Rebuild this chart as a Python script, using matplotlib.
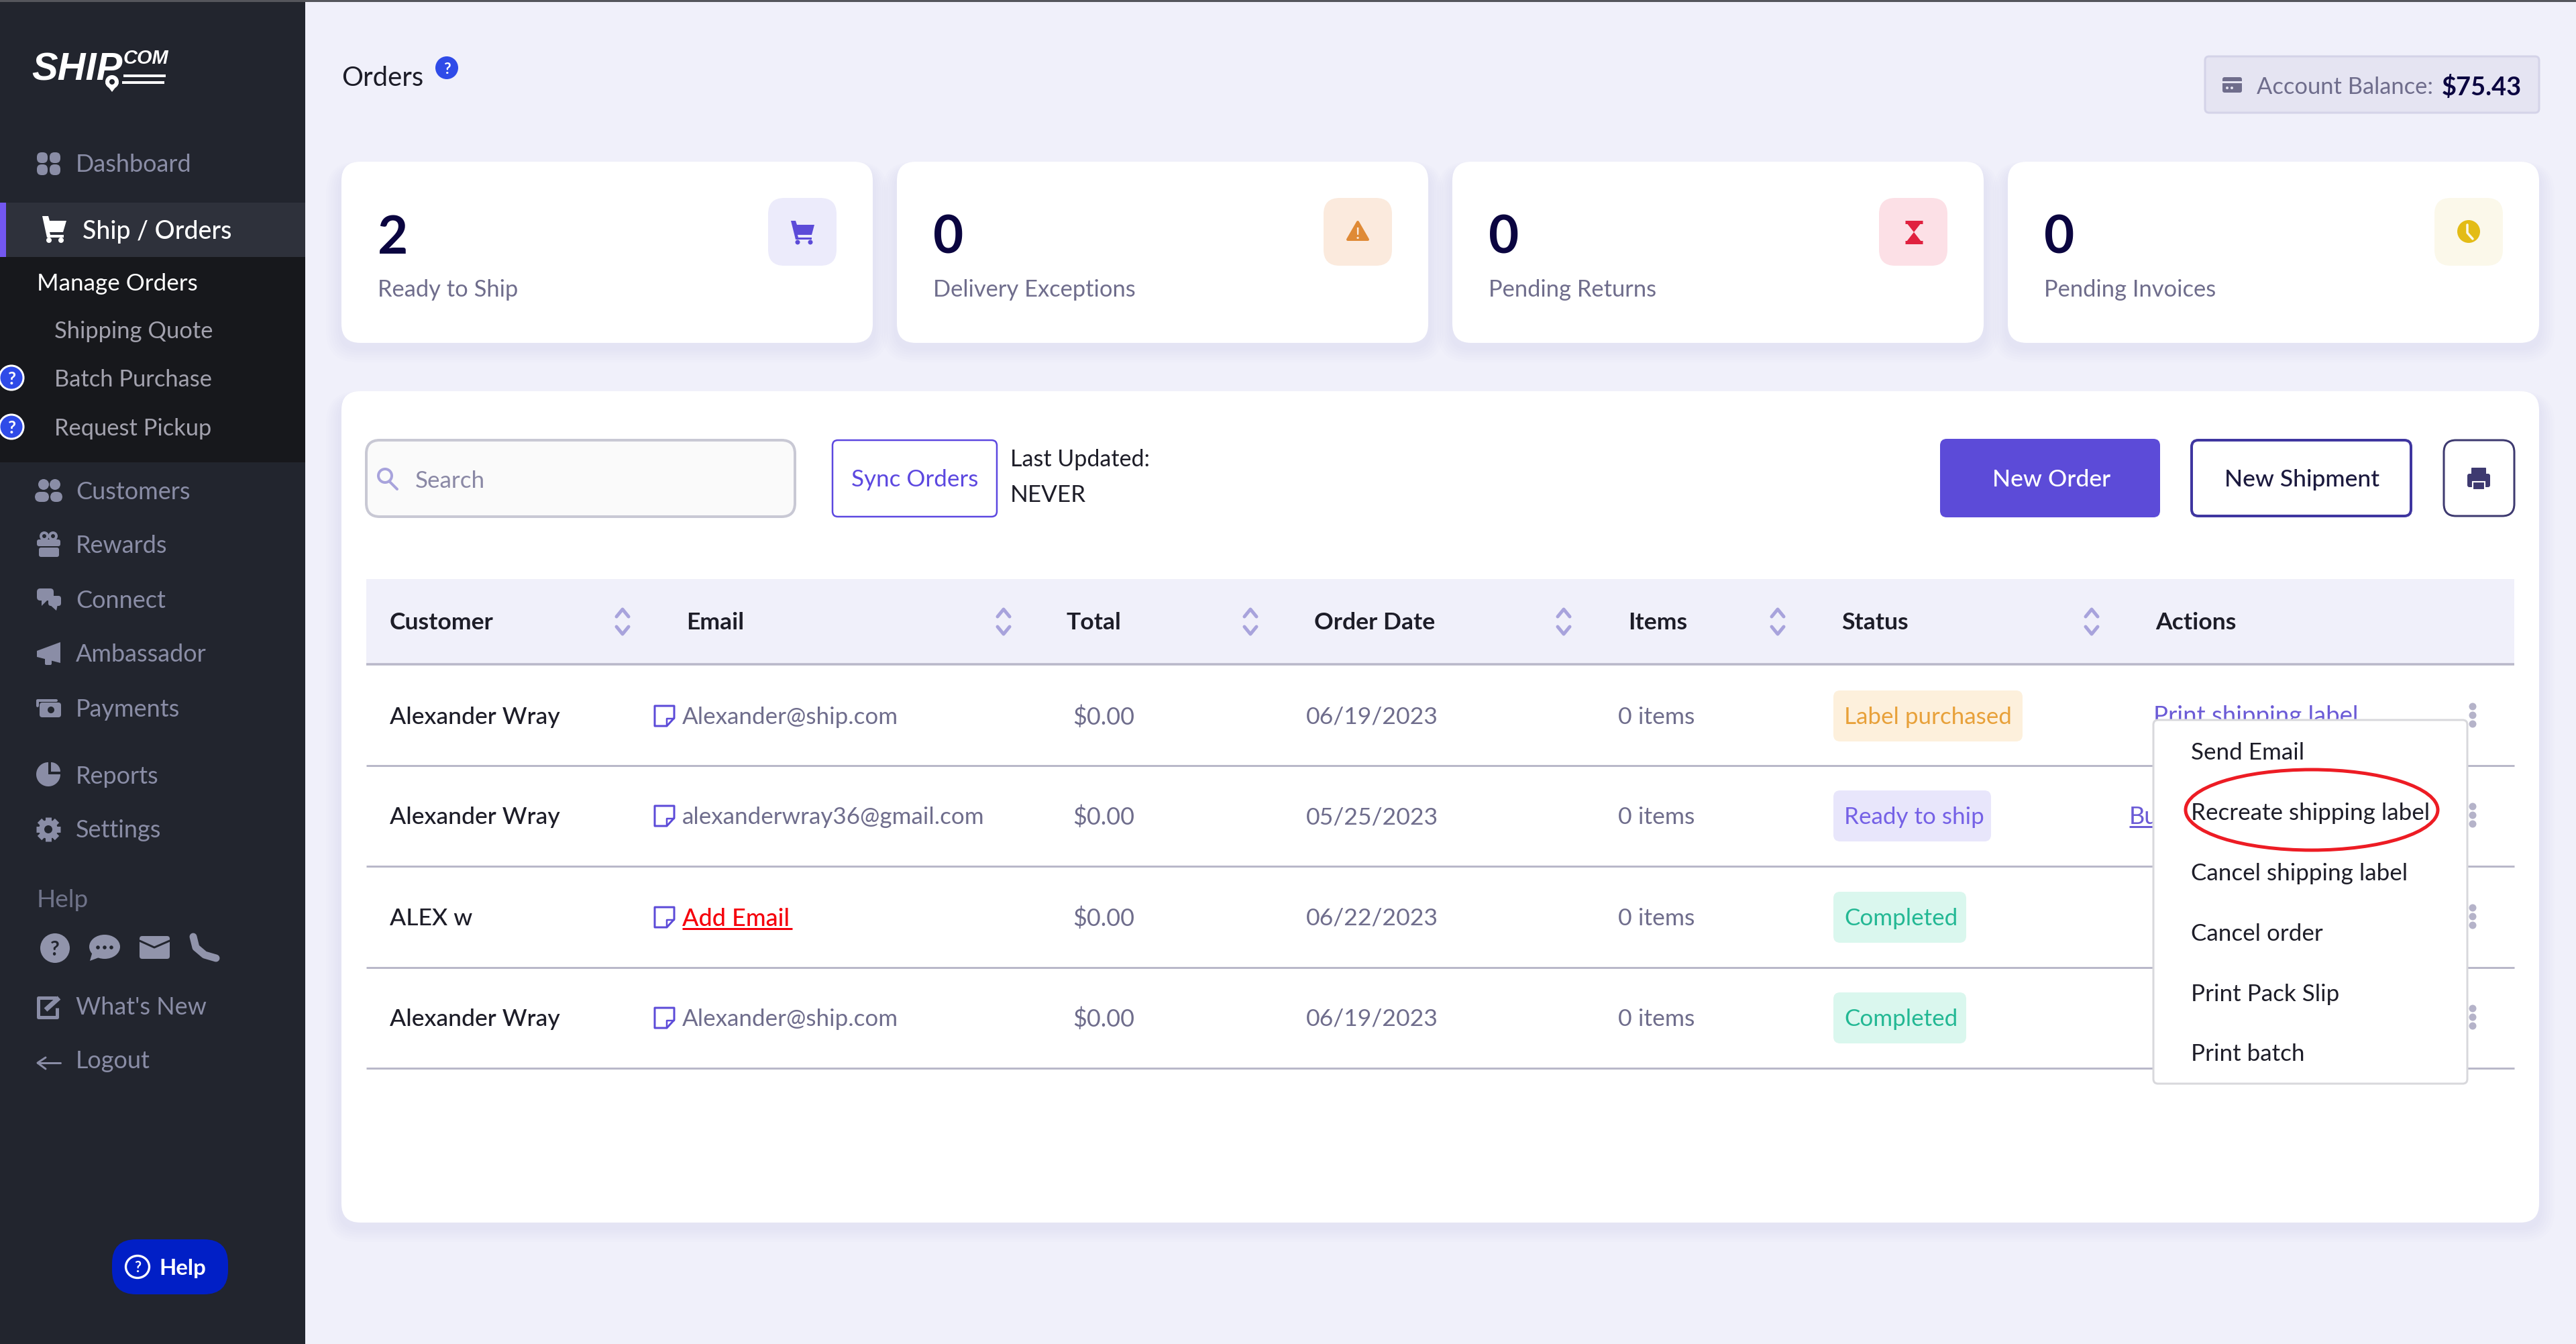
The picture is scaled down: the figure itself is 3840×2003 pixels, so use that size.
import matplotlib
matplotlib.use("Agg")
import matplotlib.pyplot as plt
from matplotlib.patches import FancyBboxPatch, Circle, Polygon, Wedge, Ellipse, Rectangle

plt.rcParams['font.family'] = ['Lato', 'DejaVu Sans']

# sidebar
NAV_MAIN = ["Dashboard", "Customers", "Rewards", "Connect", "Ambassador", "Payments", "Reports", "Settings", "What's New", "Logout"]
NAV_MAIN_Y = [242, 730, 810, 892, 973, 1054, 1154, 1235, 1499, 1579]
NAV_SUB = ["Shipping Quote", "Batch Purchase", "Request Pickup"]
NAV_SUB_Y = [491, 563, 636]

# stat cards
CARD_VALUES = ["2", "0", "0", "0"]
CARD_LABELS = ["Ready to Ship", "Delivery Exceptions", "Pending Returns", "Pending Invoices"]
CARD_X = [509, 1337, 2165, 2993]

# table
HEADERS = ["Customer", "Email", "Total", "Order Date", "Items", "Status", "Actions"]
HEADER_X = [581, 1023, 1589, 1959, 2427, 2745, 3213]
SORT_X = [928, 1496, 1864, 2331, 2650, 3118]
CUSTOMERS = ["Alexander Wray", "Alexander Wray", "ALEX w", "Alexander Wray"]
EMAILS = ["Alexander@ship.com", "alexanderwray36@gmail.com", "Add Email", "Alexander@ship.com"]
TOTALS = ["$0.00", "$0.00", "$0.00", "$0.00"]
DATES = ["06/19/2023", "05/25/2023", "06/22/2023", "06/19/2023"]
ITEMS = ["0 items", "0 items", "0 items", "0 items"]
STATUSES = ["Label purchased", "Ready to ship", "Completed", "Completed"]
ROW_Y = [1066, 1215, 1366, 1516]
LINE_Y = [1141, 1291, 1442, 1592]
MENU = ["Send Email", "Recreate shipping label", "Cancel shipping label", "Cancel order", "Print Pack Slip", "Print batch"]
MENU_Y = [1119, 1209, 1299, 1389, 1479, 1568]

BG = "#f0f0fa"
SIDE = "#22252e"
GREY = "#8a8da6"
PURPLE = "#5c4bd8"
INK = "#1d1d28"
MUTED = "#6f6d8c"
NAVY = "#0b0540"

fig = plt.figure(figsize=(38.4, 20.03), dpi=100, facecolor=BG)
ax = fig.add_axes([0, 0, 1, 1])
ax.set_xlim(0, 3840)
ax.set_ylim(2003, 0)
ax.axis("off")


def txt(x, y, s, px=36, color=INK, weight="normal", ha="left", z=6, **kw):
    return ax.text(x, y, s, fontsize=px * 0.72, color=color, weight=weight, ha=ha,
                   va="center_baseline", zorder=z, **kw)


def rrect(x0, y0, x1, y1, r, fc, ec="none", lw=0, z=2, alpha=None):
    p = FancyBboxPatch((x0, y0), x1 - x0, y1 - y0, boxstyle=f"round,pad=0,rounding_size={r}",
                       fc=fc, ec=ec, lw=lw * 0.72, zorder=z, alpha=alpha)
    ax.add_patch(p)
    return p


def circ(x, y, r, fc, ec="none", lw=0, z=3):
    ax.add_patch(Circle((x, y), r, fc=fc, ec=ec, lw=lw * 0.72, zorder=z))


def poly(pts, fc, z=3, ec="none", lw=0):
    ax.add_patch(Polygon(pts, closed=True, fc=fc, ec=ec, lw=lw * 0.72, zorder=z, joinstyle="round"))


def line(xs, ys, color, lw, z=3, cap="round"):
    ax.plot(xs, ys, color=color, lw=lw * 0.72, zorder=z, solid_capstyle=cap, solid_joinstyle="round")


def shadow(x0, y0, x1, y1, r):
    for g in range(8, 44, 6):
        rrect(x0 - g * 0.6, y0 - g * 0.3 + 12, x1 + g * 0.6, y1 + g * 0.6 + 6, r + g * 0.5, "#b9b8e0", z=1.5, alpha=0.035)


# ---- sidebar
ax.add_patch(Rectangle((0, 0), 455, 2003, fc=SIDE, zorder=1))
ax.add_patch(Rectangle((0, 302), 455, 81, fc="#2e313b", zorder=1.1))
ax.add_patch(Rectangle((0, 302), 9, 81, fc="#7357f0", zorder=1.2))
ax.add_patch(Rectangle((0, 383), 455, 306, fc="#17181c", zorder=1.1))
ax.add_patch(Rectangle((0, 0), 3840, 3, fc="#55565c", zorder=8))

# logo
txt(47, 98, "SHIP", 58, "white", "heavy", style="italic", family=["Liberation Sans"])
txt(184, 84, "COM", 29, "white", "bold", style="italic", family=["Liberation Sans"])
line([184, 247], [113, 113], "white", 4, cap="butt")
line([182, 245], [123, 123], "white", 4, cap="butt")
poly([(157, 124), (177, 124), (167, 137)], "white", z=7)
circ(167, 122, 10, "white", z=7)
circ(167, 122, 4, SIDE, z=8)

for s, y in zip(NAV_MAIN, NAV_MAIN_Y):
    txt(113, y, s, 36, GREY)
txt(123, 342, "Ship / Orders", 37.5, "white", "medium")
txt(55, 420, "Manage Orders", 35, "white")
for s, y in zip(NAV_SUB, NAV_SUB_Y):
    txt(81, y, s, 34.5, "#a3a2ae")
txt(55, 1338, "Help", 37, "#6f7389")
for y in NAV_SUB_Y[1:]:
    circ(17, y, 18, "#2f4be8", "white", 3, z=4)
    txt(17, y, "?", 26, "white", "bold", ha="center")

# sidebar icons
for a, b in [(55, 227), (74, 227), (55, 245), (74, 245)]:
    rrect(a, b, a + 16, b + 16, 7, GREY, z=3)
poly([(63, 322), (72, 322), (74, 329), (99, 329), (94, 346), (74, 346), (75, 350), (95, 350), (95, 354), (70, 354)], "white")
circ(73, 358, 4, "white")
circ(91, 358, 4, "white")
circ(65, 722, 8, GREY)
circ(82, 722, 8, GREY)
rrect(52, 733, 73, 748, 8, GREY)
rrect(75, 733, 93, 748, 8, GREY)
rrect(55, 804, 90, 814, 3, GREY)
rrect(58, 816, 88, 830, 3, GREY)
circ(66, 799, 5, "none", GREY, 4)
circ(79, 799, 5, "none", GREY, 4)
rrect(55, 877, 80, 895, 5, GREY)
poly([(62, 893), (72, 893), (62, 903)], GREY)
rrect(72, 888, 91, 903, 4, GREY)
poly([(74, 901), (86, 901), (84, 910)], GREY)
poly([(55, 970), (90, 957), (90, 988), (55, 979)], GREY)
rrect(67, 978, 77, 991, 2, GREY)
rrect(59, 1047, 91, 1069, 4, GREY)
line([56, 56, 84], [1052, 1044, 1044], GREY, 4)
circ(76, 1058, 5, SIDE, z=4)
ax.add_patch(Wedge((72, 1154), 18, 0, 270, fc=GREY, zorder=3))
ax.add_patch(Wedge((76, 1150), 14, 270, 360, fc=GREY, zorder=3))
for a, b in [((72, 72), (1218, 1254)), ((54, 90), (1236, 1236)), ((59, 85), (1223, 1249)), ((59, 85), (1249, 1223))]:
    line(a, b, GREY, 9, cap="butt")
circ(72, 1236, 14, GREY)
circ(72, 1236, 6, SIDE, z=4)
# help row
circ(82, 1413, 22, "#9194ab")
txt(82, 1413, "?", 30, SIDE, "bold", ha="center")
ax.add_patch(Ellipse((156, 1411), 46, 36, fc="#9194ab", zorder=3))
poly([(138, 1418), (150, 1426), (134, 1432)], "#9194ab")
for dx in [-10, 0, 10]:
    circ(156 + dx, 1412, 2.8, SIDE, z=4)
rrect(208, 1395, 253, 1429, 4, "#9194ab")
line([208, 230, 253], [1402, 1412, 1402], SIDE, 3, z=4)
line([288, 292, 305, 322], [1396, 1412, 1423, 1428], "#9194ab", 11)
# what's new / logout
line([84, 57, 57, 85, 85], [1487, 1487, 1516, 1516, 1502], GREY, 5, cap="butt")
line([68, 88], [1505, 1487], GREY, 7, cap="butt")
line([56, 90], [1584, 1584], GREY, 3)
line([68, 56, 68], [1576, 1584, 1593], GREY, 3)
# help button
rrect(167, 1847, 340, 1929, 36, "#011fc6", z=3)
ax.add_patch(Ellipse((205, 1888), 35, 33, fc="none", ec="white", lw=2.4, zorder=5))
txt(205, 1888, "?", 22, "white", "bold", ha="center")
txt(237, 1888, "Help", 33, "white", "bold")

# ---- top
txt(509, 113, "Orders", 40, INK)
circ(666, 101, 17, "#2f4be8")
txt(666, 101, "?", 23, "white", "bold", ha="center")
rrect(3287, 84, 3785, 168, 6, "#e5e4f2", "#d4d3e8", 3)
rrect(3313, 115, 3342, 138, 3, MUTED)
ax.add_patch(Rectangle((3313, 121), 29, 3, fc="#e5e4f2", zorder=4))
circ(3320, 131, 2, "#e5e4f2", z=4)
circ(3327, 131, 2, "#e5e4f2", z=4)
txt(3364, 127, "Account Balance:", 34.5, MUTED)
txt(3640, 127, "$75.43", 38, NAVY, "bold")

# ---- stat cards
ICON_BOX = ["#ecebfb", "#fbeadd", "#fce0e6", "#fbf8ea"]
for x, v, lab, box in zip(CARD_X, CARD_VALUES, CARD_LABELS, ICON_BOX):
    shadow(x, 241, x + 792, 511, 28)
    rrect(x, 241, x + 792, 511, 28, "white", z=2)
    txt(x + 54, 349, v, 78, NAVY, "bold")
    txt(x + 54, 429, lab, 34.5, MUTED)
    rrect(x + 636, 295, x + 738, 396, 24, box, z=3)
# cart
cx = 1197
poly([(cx - 18, 329), (cx - 11, 329), (cx - 9, 335), (cx + 17, 335), (cx + 13, 350), (cx - 8, 350), (cx - 7, 354), (cx + 13, 354), (cx + 13, 357), (cx - 11, 357)], PURPLE, z=4)
circ(cx - 8, 361, 3.5, PURPLE, z=4)
circ(cx + 11, 361, 3.5, PURPLE, z=4)
# warning
poly([(2024, 331), (2039, 357), (2009, 357)], "#df8a36", z=4, ec="#df8a36", lw=4)
txt(2024, 347, "!", 22, "#fbeadd", "bold", ha="center", z=5)
# hourglass
poly([(2842, 332), (2864, 332), (2853, 346)], "#e0213f", z=4)
poly([(2842, 360), (2864, 360), (2853, 346)], "#e0213f", z=4)
line([2840, 2866], [331, 331], "#e0213f", 5, z=4, cap="butt")
line([2840, 2866], [361, 361], "#e0213f", 5, z=4, cap="butt")
# clock
circ(3680, 345, 17, "#e3bc16", z=4)
line([3678, 3678, 3686], [335, 347, 356], "#fbf8ea", 3.5, z=5)

# ---- main panel
shadow(509, 583, 3785, 1822, 28)
rrect(509, 583, 3785, 1822, 28, "white", z=2)
rrect(546, 656, 1185, 770, 20, "#fafafa", "#c8c8d4", 4, z=3)
circ(574, 709, 10, "none", "#a8a3dc", 4, z=4)
line([581, 592], [718, 729], "#a8a3dc", 4, z=4)
txt(619, 714, "Search", 35, "#8a88a5")
rrect(1241, 656, 1486, 770, 8, "white", "#5c48e0", 2.5, z=3)
txt(1364, 712, "Sync Orders", 35, "#5c48e0", ha="center")
txt(1506, 682, "Last Updated:", 34, INK)
txt(1506, 735, "NEVER", 35, INK)
rrect(2892, 654, 3220, 771, 10, PURPLE, z=3)
txt(3058, 712, "New Order", 35.5, "white", "medium", ha="center")
rrect(3267, 656, 3594, 769, 10, "white", "#3f36a0", 4, z=3)
txt(3432, 712, "New Shipment", 35.5, "#1c1a3e", "medium", ha="center")
rrect(3643, 656, 3748, 769, 18, "white", "#3e3a70", 3, z=3)
rrect(3678, 706, 3712, 726, 3, "#3e3a70", z=4)
rrect(3684, 697, 3706, 708, 1, "#3e3a70", z=4)
ax.add_patch(Rectangle((3686, 718), 18, 12, fc="#3e3a70", ec="white", lw=1.5, zorder=5))

# ---- table
ax.add_patch(Rectangle((546, 863), 3202, 126, fc=BG, zorder=3))
line([546, 3748], [990, 990], "#b9b8c9", 3.5, z=3, cap="butt")
for s, x in zip(HEADERS, HEADER_X):
    txt(x, 925, s, 35.5, INK, "bold")
for x in SORT_X:
    line([x - 9, x, x + 9], [919, 908, 919], "#a8a3dc", 5)
    line([x - 9, x, x + 9], [934, 945, 934], "#a8a3dc", 5)
for y in LINE_Y:
    line([546, 3748], [y, y], "#b9b8c9", 3, z=3, cap="butt")

PILL_BG = {"Label purchased": "#fdf0dc", "Ready to ship": "#e8e6fb", "Completed": "#daf7ee"}
PILL_FG = {"Label purchased": "#e8a13a", "Ready to ship": "#7561e6", "Completed": "#23b894"}
PILL_W = {"Label purchased": 282, "Ready to ship": 235, "Completed": 198}

for name, mail, total, date, n, status, y in zip(CUSTOMERS, EMAILS, TOTALS, DATES, ITEMS, STATUSES, ROW_Y):
    txt(581, y, name, 35.5, INK, "medium")
    # note icon
    poly([(976, y - 14), (1005, y - 14), (1005, y + 4), (994, y + 16), (976, y + 16)], "white", z=4, ec=PURPLE, lw=3)
    line([994, 994, 1005], [y + 16, y + 5, y + 5], PURPLE, 2.5, z=4)
    if mail == "Add Email":
        txt(1017, y, mail, 36, "#f5000c", "medium")
        line([1017, 1181], [y + 18, y + 18], "#f5000c", 3, z=5, cap="butt")
    else:
        txt(1017, y, mail, 35, MUTED)
    txt(1599, y, total, 36, MUTED)
    txt(1947, y, date, 35.5, MUTED)
    txt(2412, y, n, 35.5, MUTED)
    rrect(2733, y - 37, 2733 + PILL_W[status], y + 39, 10, PILL_BG[status], z=3)
    txt(2749, y, status, 35, PILL_FG[status])
    for dy in [-13, 0, 13]:
        circ(3686, y + dy, 5.5, "#b5b3c9", z=4)

# links under the dropdown
txt(3210, 1065, "Print shipping label", 36.5, "#6b5bd6", z=5)
txt(3174, 1215, "Buy", 36, "#6b5bd6", z=5)
line([3174, 3212], [1232, 1232], "#6b5bd6", 3, z=5, cap="butt")

# ---- dropdown
rrect(3210, 1073, 3678, 1615, 7, "white", "#d8d8dc", 3, z=7)
for s, y in zip(MENU, MENU_Y):
    txt(3266, y, s, 35, INK, z=8)
ax.add_patch(Ellipse((3446, 1207), 376, 120, fc="none", ec="#ed1c24", lw=3.6, zorder=9))

fig.savefig("out.png", dpi=100, facecolor=BG)
